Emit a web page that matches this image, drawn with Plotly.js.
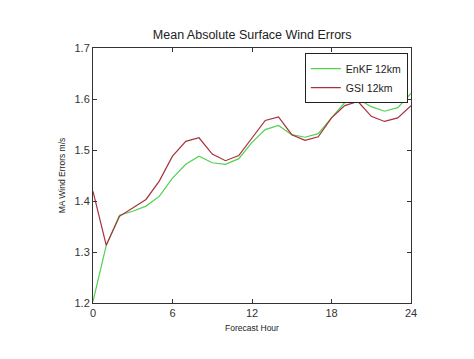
<!DOCTYPE html>
<html>
<head>
<meta charset="utf-8">
<script src="https://cdn.plot.ly/plotly-3.0.1.min.js"></script>
<style>html,body{margin:0;padding:0;background:#fff;}#chart{width:474px;height:359px;}</style>
</head>
<body>
<div id="chart"></div>
<script>
var hours = [0,1,2,3,4,5,6,7,8,9,10,11,12,13,14,15,16,17,18,19,20,21,22,23,24];
var enkf = [1.203,1.313,1.372,1.380,1.390,1.409,1.445,1.472,1.488,1.475,1.472,1.483,1.515,1.540,1.548,1.530,1.525,1.532,1.563,1.593,1.600,1.585,1.576,1.583,1.611];
var gsi  = [1.419,1.313,1.370,1.387,1.403,1.439,1.488,1.517,1.524,1.492,1.479,1.489,1.524,1.558,1.565,1.530,1.519,1.526,1.563,1.587,1.595,1.566,1.556,1.563,1.587];
var xTicks = [0,6,12,18,24];
var yTicks = [1.2,1.3,1.4,1.5,1.6,1.7];

var font = 'Liberation Sans, Arial, Helvetica, sans-serif';
var traces = [
  {x: hours, y: enkf, type: 'scatter', mode: 'lines', name: 'EnKF 12km', line: {color: '#52d052', width: 1.2}},
  {x: hours, y: gsi, type: 'scatter', mode: 'lines', name: 'GSI 12km', line: {color: '#a8303c', width: 1.2}}
];
var axCommon = {
  showgrid: false, zeroline: false, showline: true, linecolor: '#333', linewidth: 1,
  mirror: 'allticks', ticks: 'inside', ticklen: 4, tickcolor: '#333',
  tickfont: {family: font, size: 11, color: '#333'}
};
var layout = {
  width: 474, height: 359,
  margin: {l: 93, r: 63, t: 48, b: 56},
  paper_bgcolor: '#fff', plot_bgcolor: '#fff',
  showlegend: true,
  title: {text: 'Mean Absolute Surface Wind Errors', font: {family: font, size: 12.5, color: '#222'},
          x: 0.532, xanchor: 'center', y: 1 - 35/359, yanchor: 'middle'},
  xaxis: Object.assign({}, axCommon, {range: [0, 24], tickvals: xTicks, ticktext: xTicks.map(String),
          title: {text: 'Forecast Hour', font: {family: font, size: 8.5, color: '#222'}, standoff: 6}}),
  yaxis: Object.assign({}, axCommon, {range: [1.2, 1.7], tickvals: yTicks, ticktext: yTicks.map(function(v){return v.toFixed(1);}),
          title: {text: 'MA Wind Errors m/s', font: {family: font, size: 8.5, color: '#222'}, standoff: 7}}),
  legend: {x: 0.99, xanchor: 'right', y: 0.98, yanchor: 'top', bgcolor: '#fff', bordercolor: '#222', borderwidth: 1,
           font: {family: font, size: 10.5, color: '#222'}, tracegroupgap: 0, itemwidth: 30}
};
Plotly.newPlot('chart', traces, layout, {displayModeBar: false, staticPlot: true});
</script>
</body>
</html>
